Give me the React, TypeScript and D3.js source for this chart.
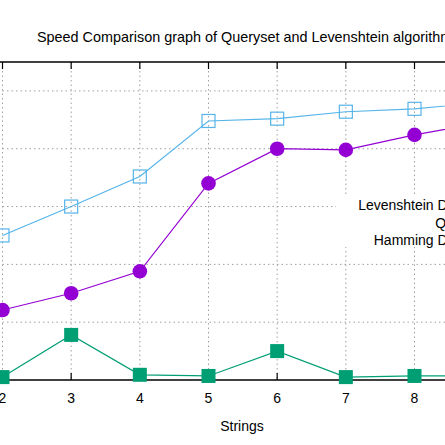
import React, { useRef, useEffect } from "react";
import * as d3 from "d3";

const strings = [2, 3, 4, 5, 6, 7, 8, 9];
const levenshtein = [2.5, 3.0, 3.52, 4.48, 4.52, 4.64, 4.69, 4.8];
const queryset = [1.21, 1.5, 1.88, 3.4, 4.0, 3.98, 4.24, 4.45];
const hamming = [0.05, 0.78, 0.09, 0.07, 0.5, 0.05, 0.07, 0.07];
const xTicks = [2, 3, 4, 5, 6, 7, 8, 9];
const yGrid = [1, 2, 3, 4, 5];
const legendLabels = ["Levenshtein Distance", "Queryset", "Hamming Distance"];

const title = "Speed Comparison graph of Queryset and Levenshtein algorithm";
const font = "'Liberation Sans', Arial, sans-serif";

export default function App() {
    const ref = useRef<SVGSVGElement | null>(null);

    useEffect(() => {
        if (!ref.current) return;
        const width = 445;
        const height = 445;
        const top = 62;
        const bottom = 380;
        const right = 560;

        const svg = d3.select(ref.current);
        svg.selectAll("*").remove();
        svg.attr("width", width).attr("height", height);

        const x = d3.scaleLinear().domain([2, 8]).range([2.5, 414.5]);
        const y = d3.scaleLinear().domain([0, 5.5]).range([bottom, top]);

        svg.append("rect").attr("width", width).attr("height", height).attr("fill", "#fff");

        // grid
        const grid = svg.append("g")
            .attr("stroke", "#a0a0a0")
            .attr("stroke-width", 1)
            .attr("stroke-dasharray", "1.5,3");
        grid.selectAll(".gy").data(yGrid).enter().append("line")
            .attr("x1", -20).attr("x2", right)
            .attr("y1", (d) => y(d)).attr("y2", (d) => y(d));
        grid.selectAll(".gx").data(xTicks).enter().append("line")
            .attr("x1", (d) => x(d)).attr("x2", (d) => x(d))
            .attr("y1", top).attr("y2", bottom);

        // legend box hides grid
        svg.append("rect")
            .attr("x", 336).attr("y", 194).attr("width", 200).attr("height", 53)
            .attr("fill", "#fff");

        // border
        svg.append("line").attr("x1", -10).attr("x2", right).attr("y1", top).attr("y2", top)
            .attr("stroke", "#000").attr("stroke-width", 1.5);
        svg.append("line").attr("x1", -10).attr("x2", right).attr("y1", bottom).attr("y2", bottom)
            .attr("stroke", "#000").attr("stroke-width", 1.5);

        const ticks = svg.append("g").attr("stroke", "#000").attr("stroke-width", 1.2);
        ticks.selectAll(".tb").data(xTicks).enter().append("line")
            .attr("x1", (d) => x(d)).attr("x2", (d) => x(d))
            .attr("y1", bottom).attr("y2", bottom - 7);
        ticks.selectAll(".tt").data(xTicks).enter().append("line")
            .attr("x1", (d) => x(d)).attr("x2", (d) => x(d))
            .attr("y1", top).attr("y2", top + 7);

        svg.selectAll(".xl").data(xTicks).enter().append("text")
            .attr("x", (d) => x(d)).attr("y", 403)
            .attr("text-anchor", "middle")
            .attr("font-family", font).attr("font-size", 14).attr("fill", "#000")
            .text((d) => d);

        svg.append("text").attr("x", 242).attr("y", 431)
            .attr("text-anchor", "middle")
            .attr("font-family", font).attr("font-size", 14).attr("fill", "#000")
            .text("Strings");

        svg.append("text").attr("x", 37).attr("y", 42)
            .attr("font-family", font).attr("font-size", 14.4).attr("fill", "#000")
            .text(title);

        const series = [
            { values: levenshtein, color: "#56b4e9", marker: "open" },
            { values: queryset, color: "#9400d3", marker: "circle" },
            { values: hamming, color: "#009e73", marker: "square" },
        ];

        const line = d3.line<number>()
            .x((_, i) => x(strings[i]))
            .y((d) => y(d));

        series.forEach((s) => {
            svg.append("path")
                .attr("d", line(s.values))
                .attr("fill", "none")
                .attr("stroke", s.color)
                .attr("stroke-width", 1.2);
            const g = svg.append("g");
            s.values.forEach((v, i) => {
                const cx = x(strings[i]);
                const cy = y(v);
                if (s.marker === "circle") {
                    g.append("circle").attr("cx", cx).attr("cy", cy).attr("r", 7.3).attr("fill", s.color);
                } else if (s.marker === "square") {
                    g.append("rect").attr("x", cx - 7).attr("y", cy - 7)
                        .attr("width", 14).attr("height", 14).attr("fill", s.color);
                } else {
                    g.append("rect").attr("x", cx - 6.5).attr("y", cy - 6.5)
                        .attr("width", 13).attr("height", 13)
                        .attr("fill", "none").attr("stroke", s.color).attr("stroke-width", 1.2);
                }
            });
        });

        // legend (clipped by the window, as in the reference)
        svg.selectAll(".lg").data(legendLabels).enter().append("text")
            .attr("x", 492).attr("y", (_, i) => 210 + i * 17.5)
            .attr("text-anchor", "end")
            .attr("font-family", font).attr("font-size", 14).attr("fill", "#000")
            .text((d) => d);
    }, []);

    return (
        <svg ref={ref} style={{ position: "absolute", left: 0, top: 0, display: "block" }} />
    );
}
